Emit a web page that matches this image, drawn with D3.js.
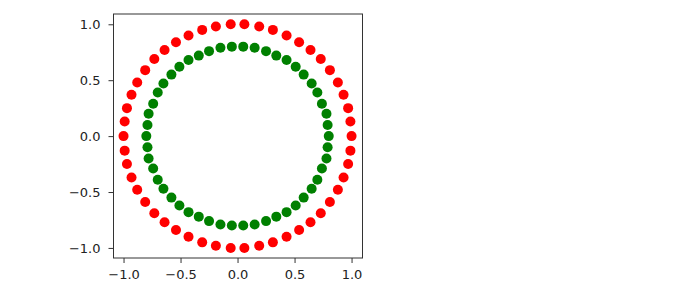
<html>
<head>
<meta charset="utf-8">
<script src="https://d3js.org/d3.v7.min.js"></script>
<style>
  body { margin: 0; background: #fff; }
  text { font-family: "DejaVu Sans", sans-serif; }
</style>
</head>
<body>
<div id="chart"></div>
<script>

// outer ring (red)
var outerX = [1.00,0.99,0.97,0.93,0.88,0.81,0.73,0.64,0.54,0.43,0.31,0.19,0.06,-0.06,-0.19,-0.31,-0.43,-0.54,-0.64,-0.73,-0.81,-0.88,-0.93,-0.97,-0.99,
              -1.00,-0.99,-0.97,-0.93,-0.88,-0.81,-0.73,-0.64,-0.54,-0.43,-0.31,-0.19,-0.06,0.06,0.19,0.31,0.43,0.54,0.64,0.73,0.81,0.88,0.93,0.97,0.99];
var outerY = [0.00,0.13,0.25,0.37,0.48,0.59,0.69,0.77,0.84,0.90,0.95,0.98,1.00,1.00,0.98,0.95,0.90,0.84,0.77,0.69,0.59,0.48,0.37,0.25,0.13,
              0.00,-0.13,-0.25,-0.37,-0.48,-0.59,-0.69,-0.77,-0.84,-0.90,-0.95,-0.98,-1.00,-1.00,-0.98,-0.95,-0.90,-0.84,-0.77,-0.69,-0.59,-0.48,-0.37,-0.25,-0.13];

// inner ring (green)
var innerX = [0.80,0.79,0.78,0.74,0.70,0.65,0.58,0.51,0.43,0.34,0.25,0.15,0.05,-0.05,-0.15,-0.25,-0.34,-0.43,-0.51,-0.58,-0.65,-0.70,-0.74,-0.78,-0.79,
              -0.80,-0.79,-0.78,-0.74,-0.70,-0.65,-0.58,-0.51,-0.43,-0.34,-0.25,-0.15,-0.05,0.05,0.15,0.25,0.34,0.43,0.51,0.58,0.65,0.70,0.74,0.78,0.79];
var innerY = [0.00,0.10,0.20,0.29,0.39,0.47,0.55,0.62,0.68,0.72,0.76,0.79,0.80,0.80,0.79,0.76,0.72,0.68,0.62,0.55,0.47,0.39,0.29,0.20,0.10,
              0.00,-0.10,-0.20,-0.29,-0.39,-0.47,-0.55,-0.62,-0.68,-0.72,-0.76,-0.79,-0.80,-0.80,-0.79,-0.76,-0.72,-0.68,-0.62,-0.55,-0.47,-0.39,-0.29,-0.20,-0.10];

var xTicks = [-1.0, -0.5, 0.0, 0.5, 1.0];
var yTicks = [-1.0, -0.5, 0.0, 0.5, 1.0];

var margin = {top: 14, left: 113.5};
var width = 249, height = 244;

var svg = d3.select("#chart")
  .append("svg")
    .attr("width", 674)
    .attr("height", 298)
  .append("g")
    .attr("transform", "translate(" + margin.left + "," + margin.top + ")");

var x = d3.scaleLinear().domain([-1.088, 1.096]).range([0, width]);
var y = d3.scaleLinear().domain([-1.09, 1.092]).range([height, 0]);

function fmt(d) { return d3.format(".1f")(d).replace("-", "\u2212"); }

// X axis
var gx = svg.append("g")
  .attr("transform", "translate(0," + height + ")")
  .call(d3.axisBottom(x).tickValues(xTicks).tickFormat(fmt).tickSizeOuter(0).tickSize(5).tickPadding(6.5));
gx.select(".domain").remove();
gx.selectAll("line").attr("stroke", "#333").attr("stroke-width", 1);
gx.selectAll("text").attr("font-size", "13px").attr("fill", "#222").attr("font-family", "DejaVu Sans");

// Y axis
var gy = svg.append("g")
  .call(d3.axisLeft(y).tickValues(yTicks).tickFormat(fmt).tickSizeOuter(0).tickSize(5).tickPadding(8));
gy.select(".domain").remove();
gy.selectAll("line").attr("stroke", "#333").attr("stroke-width", 1);
gy.selectAll("text").attr("font-size", "13px").attr("fill", "#222").attr("font-family", "DejaVu Sans");

// Dots
var outer = outerX.map(function(v, i) { return {x: v, y: outerY[i]}; });
var inner = innerX.map(function(v, i) { return {x: v, y: innerY[i]}; });

svg.selectAll("circle.outer")
  .data(outer)
  .enter()
  .append("circle")
    .attr("class", "outer")
    .attr("cx", function(d) { return x(d.x); })
    .attr("cy", function(d) { return y(d.y); })
    .attr("r", 5)
    .attr("fill", "red");

svg.selectAll("circle.inner")
  .data(inner)
  .enter()
  .append("circle")
    .attr("class", "inner")
    .attr("cx", function(d) { return x(d.x); })
    .attr("cy", function(d) { return y(d.y); })
    .attr("r", 5)
    .attr("fill", "green");

// Frame
svg.append("rect")
  .attr("width", width)
  .attr("height", height)
  .attr("fill", "none")
  .attr("stroke", "#333")
  .attr("stroke-width", 1);

</script>
</body>
</html>
